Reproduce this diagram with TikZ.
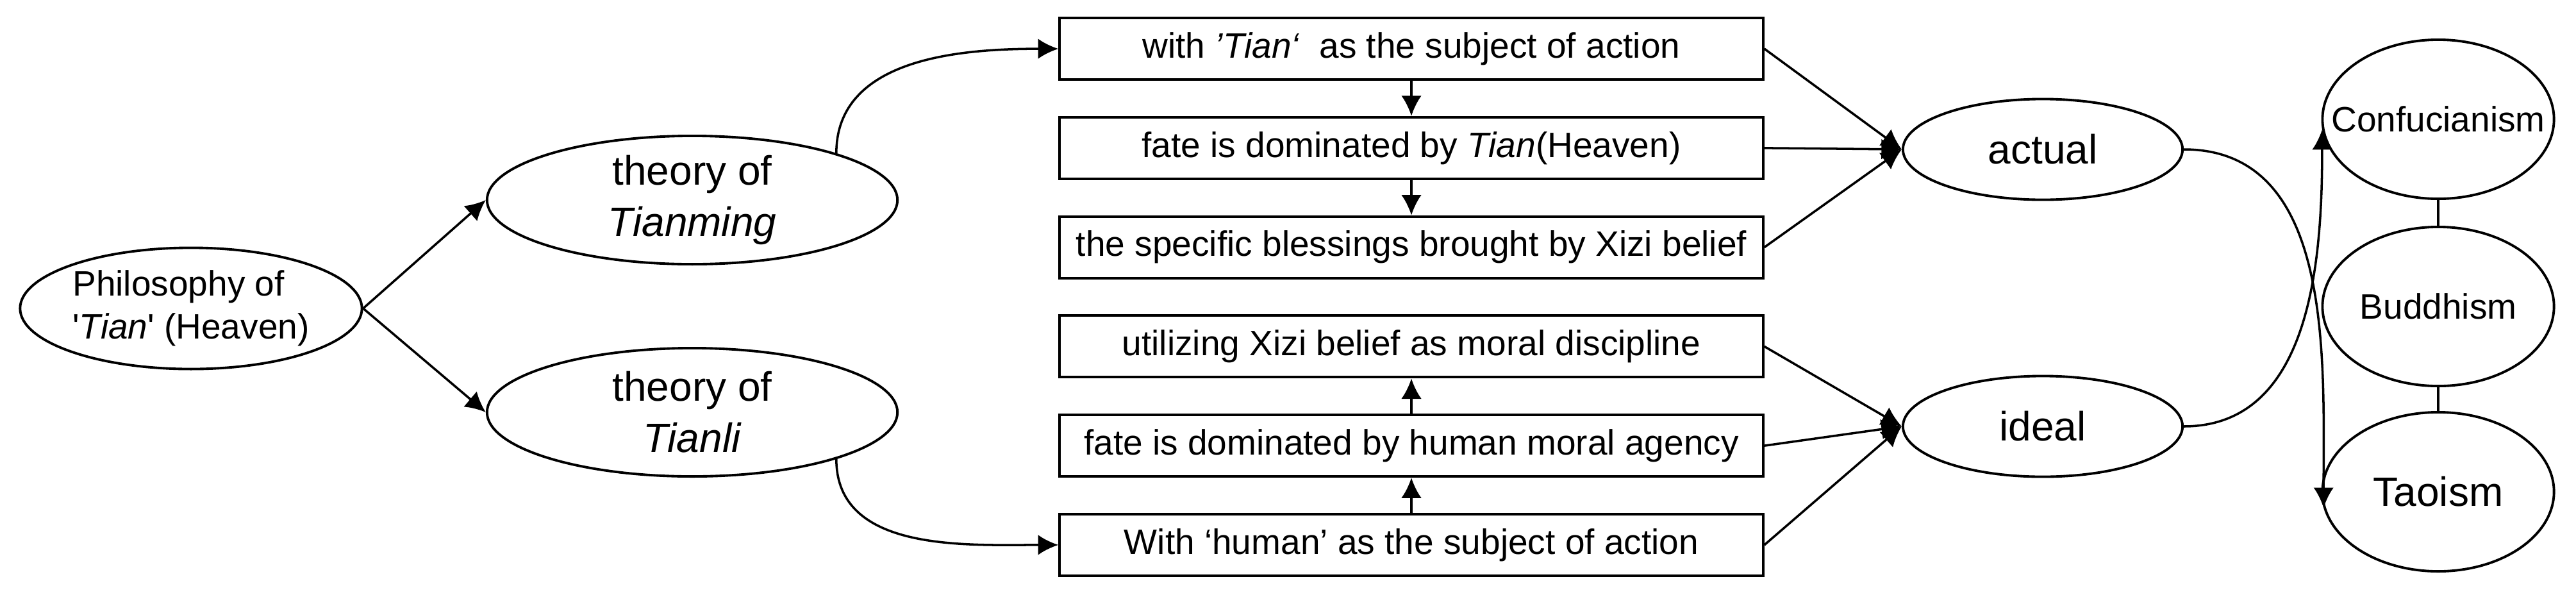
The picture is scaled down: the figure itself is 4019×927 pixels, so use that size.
\documentclass[tikz,border=0pt]{standalone}
\usepackage{fontspec}
\setmainfont{Liberation Sans}
\usetikzlibrary{shapes,arrows.meta}

\begin{document}
\begin{tikzpicture}[x=0.01cm, y=0.01cm,
    block_box/.style ={rectangle, draw=black, line width=1.1pt, fill=white,
      minimum width=10.97cm, minimum height=0.96cm, inner sep=0pt,
      font=\fontsize{15.65}{19}\selectfont},
    ell_small/.style ={ellipse, draw=black, line width=1.1pt, inner sep=0pt,
      font=\fontsize{15.65}{19}\selectfont},
    ell_big/.style ={ellipse, draw=black, line width=1.1pt, inner sep=0pt,
      font=\fontsize{18.2}{22.8}\selectfont},
    ell_circle/.style ={ellipse, draw=black, line width=1.1pt, inner sep=0pt,
      minimum width=3.61cm, minimum height=2.48cm},
    line/.style ={draw, line width=1pt, -{Latex[length=9pt,width=9pt]}},
    link/.style ={draw, line width=1pt}]
    \useasboundingbox (0,0) rectangle (4019,-927);
    % left part: the two theories
    \node [ell_small, align=left, minimum width=5.33cm, minimum height=1.89cm] (philosophy) at (298,-481) {
      Philosophy of\\
      \textquotesingle\textit{Tian}\textquotesingle{} (Heaven)};
    \node [ell_big, align=center, minimum width=6.4cm, minimum height=2cm] (tianming) at (1080,-312) {
      theory of\\ \textit{Tianming}};
    \node [ell_big, align=center, minimum width=6.4cm, minimum height=2cm] (tianli) at (1080,-643) {
      theory of\\ \textit{Tianli}};
    % middle column of statements
    \matrix (steps) [row sep=0.548cm] at (2202,-463) {
      % Tianming rows
      \node [block_box] (tianact) {with \textit{'Tian`}\ \ as the subject of action};\\
      \node [block_box] (tianfate) {fate is dominated by \textit{Tian}(Heaven)};\\
      \node [block_box] (blessing) {the specific blessings brought by Xizi belief};\\
      % Tianli rows
      \node [block_box] (discipline) {utilizing Xizi belief as moral discipline};\\
      \node [block_box] (humanfate) {fate is dominated by human moral agency};\\
      \node [block_box] (humanact) {With `human' as the subject of action};\\
    };% end matrix
    % right part
    \node [ell_big, minimum width=4.36cm, minimum height=1.57cm] (actual) at (3187,-233) {actual};
    \node [ell_big, minimum width=4.36cm, minimum height=1.57cm] (ideal) at (3187,-665) {ideal};
    \node [ell_circle, label={[font=\fontsize{15.65}{19}\selectfont]center:Confucianism}] (confucianism) at (3804,-186) {};
    \node [ell_circle, label={[font=\fontsize{15.65}{19}\selectfont]center:Buddhism}] (buddhism) at (3804,-478) {};
    \node [ell_circle, label={[font=\fontsize{18.2}{22.8}\selectfont]center:Taoism}] (taoism) at (3804,-767) {};
    % connecting nodes with paths
    \begin{scope}[every path/.style=line]
      \path (philosophy.east) -- (tianming.west);
      \path (philosophy.east) -- (tianli.west);
      \path (tianming.18) to[out=90,in=180] (tianact.west);
      \path (tianli.-18) to[out=-90,in=180] (humanact.west);
      \path (tianact) -- (tianfate);
      \path (tianfate) -- (blessing);
      \path (humanact) -- (humanfate);
      \path (humanfate) -- (discipline);
      \path (tianact.east) -- (actual.west);
      \path (tianfate.east) -- (actual.west);
      \path (blessing.east) -- (actual.west);
      \path (discipline.east) -- (ideal.west);
      \path (humanfate.east) -- (ideal.west);
      \path (humanact.east) -- (ideal.west);
      \path (actual.east) to[out=0,in=90] (taoism.188);
      \path (ideal.east) to[out=0,in=-90] (confucianism.185);
    \end{scope}
    \begin{scope}[every path/.style=link]
      \path (confucianism) -- (buddhism);
      \path (buddhism) -- (taoism);
    \end{scope}
  \end{tikzpicture}
\end{document}
